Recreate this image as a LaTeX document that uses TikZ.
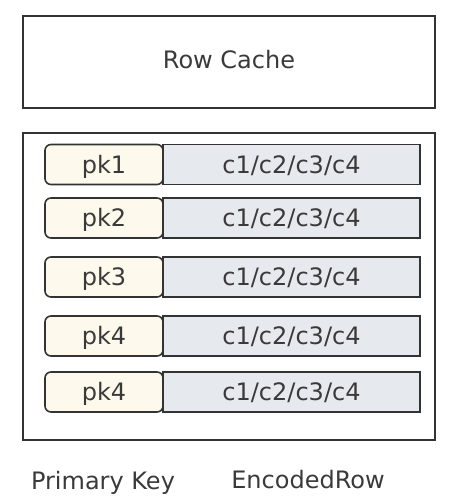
\documentclass[tikz,border=0pt]{standalone}
\usepackage{fontspec}
\setmainfont{DejaVu Sans}
\definecolor{edge}{HTML}{333333}
\definecolor{pkfill}{HTML}{FDF9EC}
\definecolor{encfill}{HTML}{E6E9EE}
\definecolor{txt}{HTML}{3A3A3A}
\begin{document}
\begin{tikzpicture}[x=1pt,y=-1pt,
  lbl/.style={text=txt,font=\fontsize{24}{28}\selectfont,text height=17.5pt,text depth=0pt},
  frame/.style={lbl,draw=edge,line width=1.6pt,inner sep=0pt},
  pkbox/.style={lbl,draw=edge,line width=1.6pt,fill=pkfill,rounded corners=6pt,minimum width=118pt,minimum height=40pt,inner sep=0pt},
  encbox/.style={lbl,draw=edge,line width=1.6pt,fill=encfill,minimum width=257pt,minimum height=40pt,inner sep=0pt},
  caption/.style={lbl,inner sep=0pt}]
\useasboundingbox (0,0) rectangle (468,500);
\node[frame,minimum width=412pt,minimum height=92pt,text depth=4pt] (cache) at (229,62) {Row Cache};
\node[frame,minimum width=412pt,minimum height=307pt] (store) at (229,286.5) {};
\foreach \i/\y/\k in {1/164.5/pk1,2/218/pk2,3/277/pk3,4/336/pk4,5/392/pk4}{
  \node[encbox] (e\i) at (291.5,\y) {c1/c2/c3/c4};
  \node[pkbox] (p\i) at (104,\y) {\k};
}
\node[caption] (pkcap) at (103,481) {Primary Key};
\node[caption] (enccap) at (308,479.5) {EncodedRow};
\end{tikzpicture}
\end{document}
